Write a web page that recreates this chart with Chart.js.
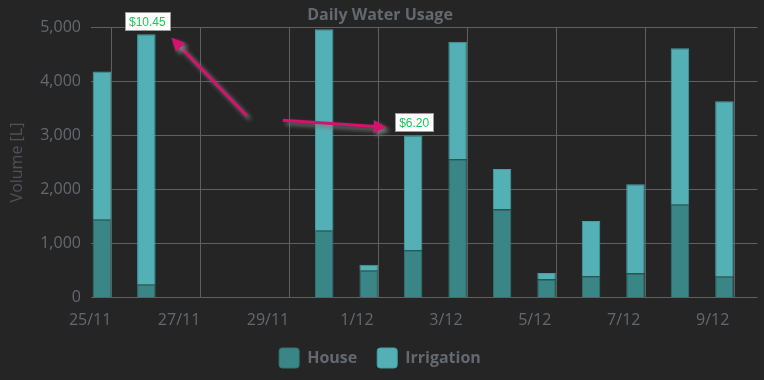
<!DOCTYPE html>
<html>
<head>
<meta charset="utf-8">
<script src="https://cdn.jsdelivr.net/npm/chart.js@4.4.1/dist/chart.umd.min.js"></script>
<style>
    html, body { margin: 0; padding: 0; background: #252525; }
    #wrap { width: 764px; height: 380px; position: relative; }
</style>
</head>
<body>
<div id="wrap"><canvas id="usageChart"></canvas></div>
<script>
// Days counted from 25/11
const days = [0, 1, 5, 6, 7, 8, 9, 10, 11, 12, 13, 14];
const houseLitres = [1440, 240, 1240, 500, 880, 2560, 1630, 340, 400, 450, 1720, 390];
const irrigationLitres = [2740, 4630, 3720, 110, 2120, 2170, 750, 120, 1020, 1650, 2890, 3240];
const costLabels = [null, '$10.45', null, null, '$6.20', null, null, null, null, null, null, null];

const tickDays = [0, 2, 4, 6, 8, 10, 12, 14];
const tickLabels = ['25/11', '27/11', '29/11', '1/12', '3/12', '5/12', '7/12', '9/12'];
const yTicks = [0, 1000, 2000, 3000, 4000, 5000];

// callout arrows: [fromDay, fromLitres, toDay, toLitres]
const arrows = [
    [3.26, 3360, 1.56, 4810],
    [4.07, 3280, 6.41, 3150]
];

const tickShift = 0.22;   // grid lines sit a little after the daily bars
const greyText = '#646970';

// cost boxes above the stacked bars + hand drawn arrows
const calloutPlugin = {
    id: 'callouts',
    afterDatasetsDraw(chart) {
        const ctx = chart.ctx;
        const xs = chart.scales.x;
        const ys = chart.scales.y;

        arrows.forEach(a => {
            const x1 = xs.getPixelForValue(a[0]), y1 = ys.getPixelForValue(a[1]);
            const x2 = xs.getPixelForValue(a[2]), y2 = ys.getPixelForValue(a[3]);
            const ang = Math.atan2(y2 - y1, x2 - x1);
            const head = 15;
            ctx.save();
            ctx.shadowColor = 'rgba(120,120,120,1)';
            ctx.shadowBlur = 4;
            ctx.shadowOffsetX = 3;
            ctx.shadowOffsetY = 3;
            ctx.strokeStyle = '#d3136d';
            ctx.fillStyle = '#d3136d';
            ctx.lineWidth = 3;
            ctx.beginPath();
            ctx.moveTo(x1, y1);
            ctx.lineTo(x2 - Math.cos(ang) * head * 0.8, y2 - Math.sin(ang) * head * 0.8);
            ctx.stroke();
            ctx.beginPath();
            ctx.moveTo(x2, y2);
            ctx.lineTo(x2 - head * Math.cos(ang - 0.45), y2 - head * Math.sin(ang - 0.45));
            ctx.lineTo(x2 - head * Math.cos(ang + 0.45), y2 - head * Math.sin(ang + 0.45));
            ctx.closePath();
            ctx.fill();
            ctx.restore();
        });

        ctx.save();
        ctx.font = '12px "Liberation Sans", Arial, sans-serif';
        ctx.textAlign = 'center';
        ctx.textBaseline = 'middle';
        costLabels.forEach((txt, i) => {
            if (!txt) return;
            const cx = xs.getPixelForValue(days[i]) + 1;
            const top = ys.getPixelForValue(houseLitres[i] + irrigationLitres[i]);
            const w = Math.round(ctx.measureText(txt).width + 8);
            const h = 18;
            const bx = Math.round(cx - w / 2) + 0.5;
            const by = Math.round(top - 4 - h) + 0.5;
            ctx.fillStyle = '#ffffff';
            ctx.fillRect(bx, by, w, h);
            ctx.strokeStyle = '#9a9a9a';
            ctx.lineWidth = 1;
            ctx.strokeRect(bx, by, w, h);
            ctx.fillStyle = '#17c957';
            ctx.fillText(txt, cx, by + h / 2 + 1);
        });
        ctx.restore();
    }
};

const ctx = document.getElementById('usageChart').getContext('2d');
new Chart(ctx, {
    type: 'bar',
    data: {
        datasets: [
            {
                label: 'House',
                data: days.map((d, i) => ({ x: d, y: houseLitres[i] })),
                backgroundColor: '#3a8686',
                borderColor: '#327575',
                borderWidth: 1,
                barPercentage: 0.52,
                categoryPercentage: 0.8
            },
            {
                label: 'Irrigation',
                data: days.map((d, i) => ({ x: d, y: irrigationLitres[i] })),
                backgroundColor: '#53b1b6',
                borderColor: '#46a0a5',
                borderWidth: 1,
                barPercentage: 0.52,
                categoryPercentage: 0.8
            }
        ]
    },
    options: {
        responsive: true,
        maintainAspectRatio: false,
        animation: false,
        layout: { padding: { left: 0, right: 4, top: 0, bottom: 2 } },
        plugins: {
            title: {
                display: true,
                text: 'Daily Water Usage',
                color: greyText,
                font: { family: '"Open Sans"', size: 16, weight: 'bold' },
                padding: { top: 6, bottom: 2 }
            },
            legend: {
                position: 'bottom',
                labels: {
                    color: greyText,
                    font: { family: '"Open Sans"', size: 16, weight: 'bold' },
                    boxWidth: 20,
                    boxHeight: 20,
                    useBorderRadius: true,
                    borderRadius: 3,
                    padding: 20
                }
            },
            tooltip: { enabled: false }
        },
        scales: {
            x: {
                type: 'linear',
                stacked: true,
                offset: false,
                min: -0.246,
                max: 14.74,
                afterBuildTicks: function(scale) {
                    scale.ticks = tickDays.map(d => ({ value: d + tickShift }));
                },
                afterFit: function(scale) {
                    scale.height -= 15;
                },
                grid: { color: '#606060', drawTicks: false, offset: false },
                border: { display: false },
                ticks: {
                    autoSkip: false,
                    maxRotation: 0,
                    labelOffset: -21.5,
                    padding: 13,
                    color: greyText,
                    font: { family: '"Open Sans"', size: 16 },
                    callback: function(value, index) {
                        return tickLabels[index];
                    }
                }
            },
            y: {
                stacked: true,
                min: 0,
                max: 5000,
                afterBuildTicks: function(scale) {
                    scale.ticks = yTicks.map(v => ({ value: v }));
                },
                grid: { color: '#606060', drawTicks: false },
                border: { display: false },
                title: {
                    display: true,
                    text: 'Volume [L]',
                    color: '#4e5359',
                    font: { family: '"Open Sans"', size: 16 },
                    padding: { top: 8, bottom: 3 }
                },
                ticks: {
                    padding: 10,
                    color: greyText,
                    font: { family: '"Open Sans"', size: 16 }
                }
            }
        }
    },
    plugins: [calloutPlugin]
});
</script>
</body>
</html>
